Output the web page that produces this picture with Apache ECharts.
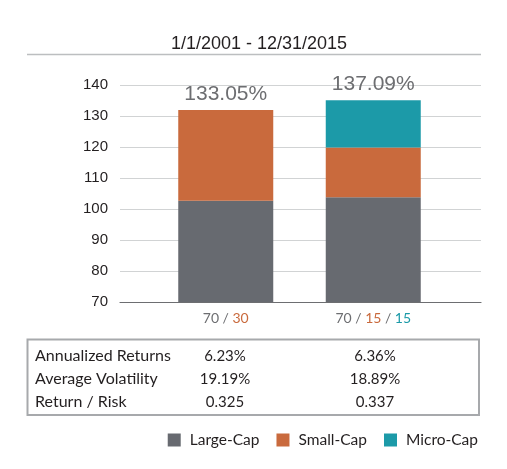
<!DOCTYPE html>
<html>
<head>
<meta charset="utf-8">
<script src="https://cdn.jsdelivr.net/npm/echarts@6/dist/echarts.min.js"></script>
<style>
  html, body { margin: 0; padding: 0; background: #fff; }
  #main { width: 507px; height: 469px; }
</style>
</head>
<body>
<div id="main"></div>
<script>
// data
var mixes = ['70/30', '70/15/15'];
var largeWeights = [70, 70];
var smallWeights = [30, 15];
var microWeights = [null, 15];
var largeCap = [102.7, 103.8];
var smallCap = [29.2, 16.0];
var microCap = ['-', 15.3];
var totalLabels = ['133.05%', '137.09%'];
var yTicks = [70, 80, 90, 100, 110, 120, 130, 140];

var rowNames = ['Annualized Returns', 'Average Volatility', 'Return / Risk'];
var col1 = ['6.23%', '19.19%', '0.325'];
var col2 = ['6.36%', '18.89%', '0.337'];

var GRAY = '#676a70', ORANGE = '#c96a3d', TEAL = '#1c9aa8';
var TXT = '#231f20';

var myChart = echarts.init(document.getElementById('main'));

// x label: weights coloured per sleeve
function mixLabel(v, i) {
    var s = '{g|' + largeWeights[i] + ' / }{o|' + smallWeights[i] + '}';
    if (microWeights[i] != null) s += '{g| / }{t|' + microWeights[i] + '}';
    return s;
}

// table built from the arrays
var tableEls = [{
    type: 'rect',
    shape: { x: 27.5, y: 339.5, width: 451.5, height: 75.5 },
    style: { fill: 'none', stroke: '#a7a9ac', lineWidth: 2 }
}];
for (var r = 0; r < rowNames.length; r++) {
    var yy = 356 + r * 23;
    tableEls.push({ type: 'text', x: 35, y: yy,
        style: { text: rowNames[r], fill: TXT, font: '16px Lato', textAlign: 'left', textVerticalAlign: 'middle' } });
    tableEls.push({ type: 'text', x: 225, y: yy,
        style: { text: col1[r], fill: TXT, font: '15px Lato', textAlign: 'center', textVerticalAlign: 'middle' } });
    tableEls.push({ type: 'text', x: 375, y: yy,
        style: { text: col2[r], fill: TXT, font: '15px Lato', textAlign: 'center', textVerticalAlign: 'middle' } });
}
tableEls.push({
    type: 'line',
    shape: { x1: 27, y1: 54.5, x2: 481, y2: 54.5 },
    style: { stroke: '#bcbec0', lineWidth: 1.5 }
});

function topLabel(i) {
    return {
        show: true, position: 'top', distance: 5,
        formatter: totalLabels[i],
        color: '#6d6e71', fontSize: 21, fontFamily: 'Liberation Sans, Arial'
    };
}

var option = {
    animation: false,
    title: {
        text: '1/1/2001 - 12/31/2015',
        left: 254, top: 30, textAlign: 'center',
        textStyle: { color: TXT, fontSize: 18, fontWeight: 'normal', fontFamily: 'Liberation Sans, Arial' }
    },
    legend: {
        right: 24, top: 427,
        icon: 'rect', itemWidth: 13, itemHeight: 13, itemGap: 17,
        textStyle: { color: TXT, fontSize: 15.5, fontFamily: 'Lato', padding: [0, 0, 0, 4] },
        data: ['Large-Cap', 'Small-Cap', 'Micro-Cap']
    },
    grid: [
        { left: 120, right: 26, top: 85, bottom: 167 },
        { left: 152, right: 60, top: 85, bottom: 167 }
    ],
    xAxis: [
        { type: 'category', gridIndex: 0, data: ['x'],
          axisLine: { show: true, lineStyle: { color: '#6d6e71', width: 1.2 } },
          axisTick: { show: false }, axisLabel: { show: false }, z: 5 },
        { type: 'category', gridIndex: 1, data: mixes,
          axisLine: { show: false }, axisTick: { show: false },
          axisLabel: {
              interval: 0, margin: 9, formatter: mixLabel,
              rich: {
                  g: { color: '#6d6e71', fontSize: 14, fontFamily: 'Lato' },
                  o: { color: ORANGE, fontSize: 14, fontFamily: 'Lato' },
                  t: { color: TEAL, fontSize: 14, fontFamily: 'Lato' }
              }
          } }
    ],
    yAxis: [
        { type: 'value', gridIndex: 0, min: yTicks[0], max: yTicks[yTicks.length - 1], interval: 10,
          axisLine: { show: false }, axisTick: { show: false },
          axisLabel: { margin: 12, color: TXT, fontSize: 15, fontFamily: 'Liberation Sans, Arial' },
          splitLine: { lineStyle: { color: '#d1d3d4', width: 1 } } },
        { type: 'value', gridIndex: 1, min: yTicks[0], max: yTicks[yTicks.length - 1], interval: 10,
          show: false, splitLine: { show: false } }
    ],
    series: [
        { name: 'Large-Cap', type: 'bar', stack: 'mix', xAxisIndex: 1, yAxisIndex: 1,
          barWidth: 95, itemStyle: { color: GRAY }, data: largeCap },
        { name: 'Small-Cap', type: 'bar', stack: 'mix', xAxisIndex: 1, yAxisIndex: 1,
          itemStyle: { color: ORANGE },
          data: smallCap.map(function (v, i) {
              return microCap[i] === '-' ? { value: v, label: topLabel(i) } : v;
          }) },
        { name: 'Micro-Cap', type: 'bar', stack: 'mix', xAxisIndex: 1, yAxisIndex: 1,
          itemStyle: { color: TEAL },
          data: microCap.map(function (v, i) {
              return v === '-' ? v : { value: v, label: topLabel(i) };
          }) }
    ],
    graphic: tableEls
};

myChart.setOption(option);
</script>
</body>
</html>
